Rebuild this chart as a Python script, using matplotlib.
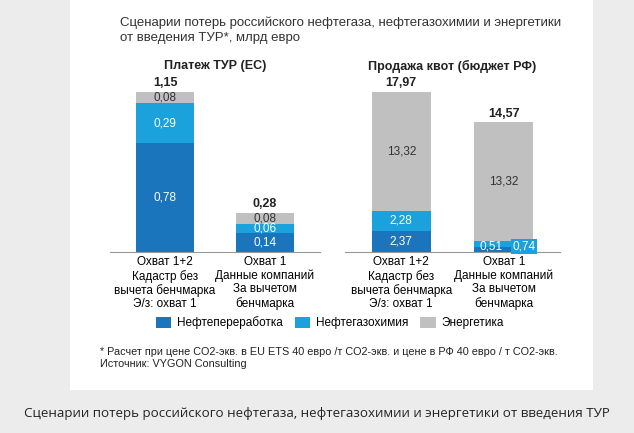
import matplotlib
matplotlib.use("Agg")
import matplotlib.pyplot as plt
from matplotlib.patches import Rectangle

cats_left = ["Охват 1+2\nКадастр без\nвычета бенчмарка\nЭ/з: охват 1", "Охват 1\nДанные компаний\nЗа вычетом\nбенчмарка"]
cats_right = cats_left
refining_l = [0.78, 0.14]
petchem_l = [0.29, 0.06]
energy_l = [0.08, 0.08]
totals_l = ["1,15", "0,28"]
refining_r = [2.37, 0.51]
petchem_r = [2.28, 0.74]
energy_r = [13.32, 13.32]
totals_r = ["17,97", "14,57"]
series_names = ["Нефтепереработка", "Нефтегазохимия", "Энергетика"]

W, H = 634, 433
plt.rcParams["font.family"] = "Liberation Sans"
fig = plt.figure(figsize=(W/100, H/100), dpi=100)
fig.patch.set_facecolor("#ececec")
fig.patches.append(Rectangle((70/W, 1-390/H), 523/W, 390/H, transform=fig.transFigure,
                             facecolor="white", edgecolor="none", zorder=-5))
C = ["#1a75bc", "#1ba1dc", "#c0c0c0"]

def fmt(v):
    return f"{v:.2f}".replace(".", ",")

def panel(x0, x1, ymax, ref, pc, en, tots, cats, title, side_label=False):
    ax = fig.add_axes([x0/W, 1-252/H, (x1-x0)/W, (252-70)/H], zorder=2)
    ax.patch.set_visible(False)
    x = [0, 1]
    b1 = ax.bar(x, ref, 0.58, color=C[0])
    b2 = ax.bar(x, pc, 0.58, bottom=ref, color=C[1])
    bot = [a+b for a, b in zip(ref, pc)]
    b3 = ax.bar(x, en, 0.58, bottom=bot, color=C[2])
    ax.set_xlim(-0.55, 1.55); ax.set_ylim(0, ymax)
    for s in ["top", "right", "left"]:
        ax.spines[s].set_visible(False)
    ax.spines["bottom"].set_color("#999999")
    ax.set_yticks([])
    ax.set_xticks(x); ax.set_xticklabels(cats, fontsize=8.5, linespacing=1.15)
    ax.tick_params(axis="x", length=0, pad=3)
    for i in x:
        segs = [(0, ref[i], "white"), (ref[i], pc[i], "white"), (bot[i], en[i], "#333333")]
        for k, (b, h, col) in enumerate(segs):
            if side_label and i == 1 and k < 2:
                if k == 0:
                    ax.text(i - 0.12, ymax*0.03, fmt(h), ha="center", va="center",
                            fontsize=8.5, color="white")
                else:
                    ax.text(i + 0.2, ymax*0.03, fmt(h), ha="center", va="center",
                            fontsize=8.5, color="white",
                            bbox=dict(fc=C[1], ec="none", pad=1))
                continue
            ax.text(i, b + h/2, fmt(h), ha="center", va="center", fontsize=8.5, color=col)
        ax.text(i, bot[i]+en[i] + ymax*0.015, tots[i], ha="center", va="bottom",
                fontsize=9, fontweight="bold", color="#222222")
    fig.text((x0+x1)/2/W, 1-66/H, title, ha="center", va="center", fontsize=9,
             fontweight="bold", color="#222222")
    return b1, b2, b3

h = panel(110, 320, 1.308, refining_l, petchem_l, energy_l, totals_l, cats_left, "Платеж ТУР (ЕС)")
panel(345, 560, 20.44, refining_r, petchem_r, energy_r, totals_r, cats_right,
      "Продажа квот (бюджет РФ)", side_label=True)

fig.text(120/W, 1-30/H, "Сценарии потерь российского нефтегаза, нефтегазохимии и энергетики\nот введения ТУР*, млрд евро",
         ha="left", va="center", fontsize=9.5, color="#333333", linespacing=1.3)
fig.legend(h, series_names, loc="center", bbox_to_anchor=(330/W, 1-323/H), ncol=3,
           frameon=False, fontsize=8.5, handlelength=1.3, handleheight=1.1, columnspacing=1.0,
           handletextpad=0.5)
fig.text(100/W, 1-358/H, "* Расчет при цене CO2-экв. в EU ETS 40 евро /т CO2-экв. и цене в РФ 40 евро / т CO2-экв.\nИсточник: VYGON Consulting",
         ha="left", va="center", fontsize=7.8, color="#222222", linespacing=1.3)
fig.text(317/W, 1-414/H, "Сценарии потерь российского нефтегаза, нефтегазохимии и энергетики от введения ТУР",
         ha="center", va="center", fontsize=9.6, color="#222222", family="Open Sans")
fig.savefig("out.png", dpi=100, facecolor=fig.get_facecolor())
